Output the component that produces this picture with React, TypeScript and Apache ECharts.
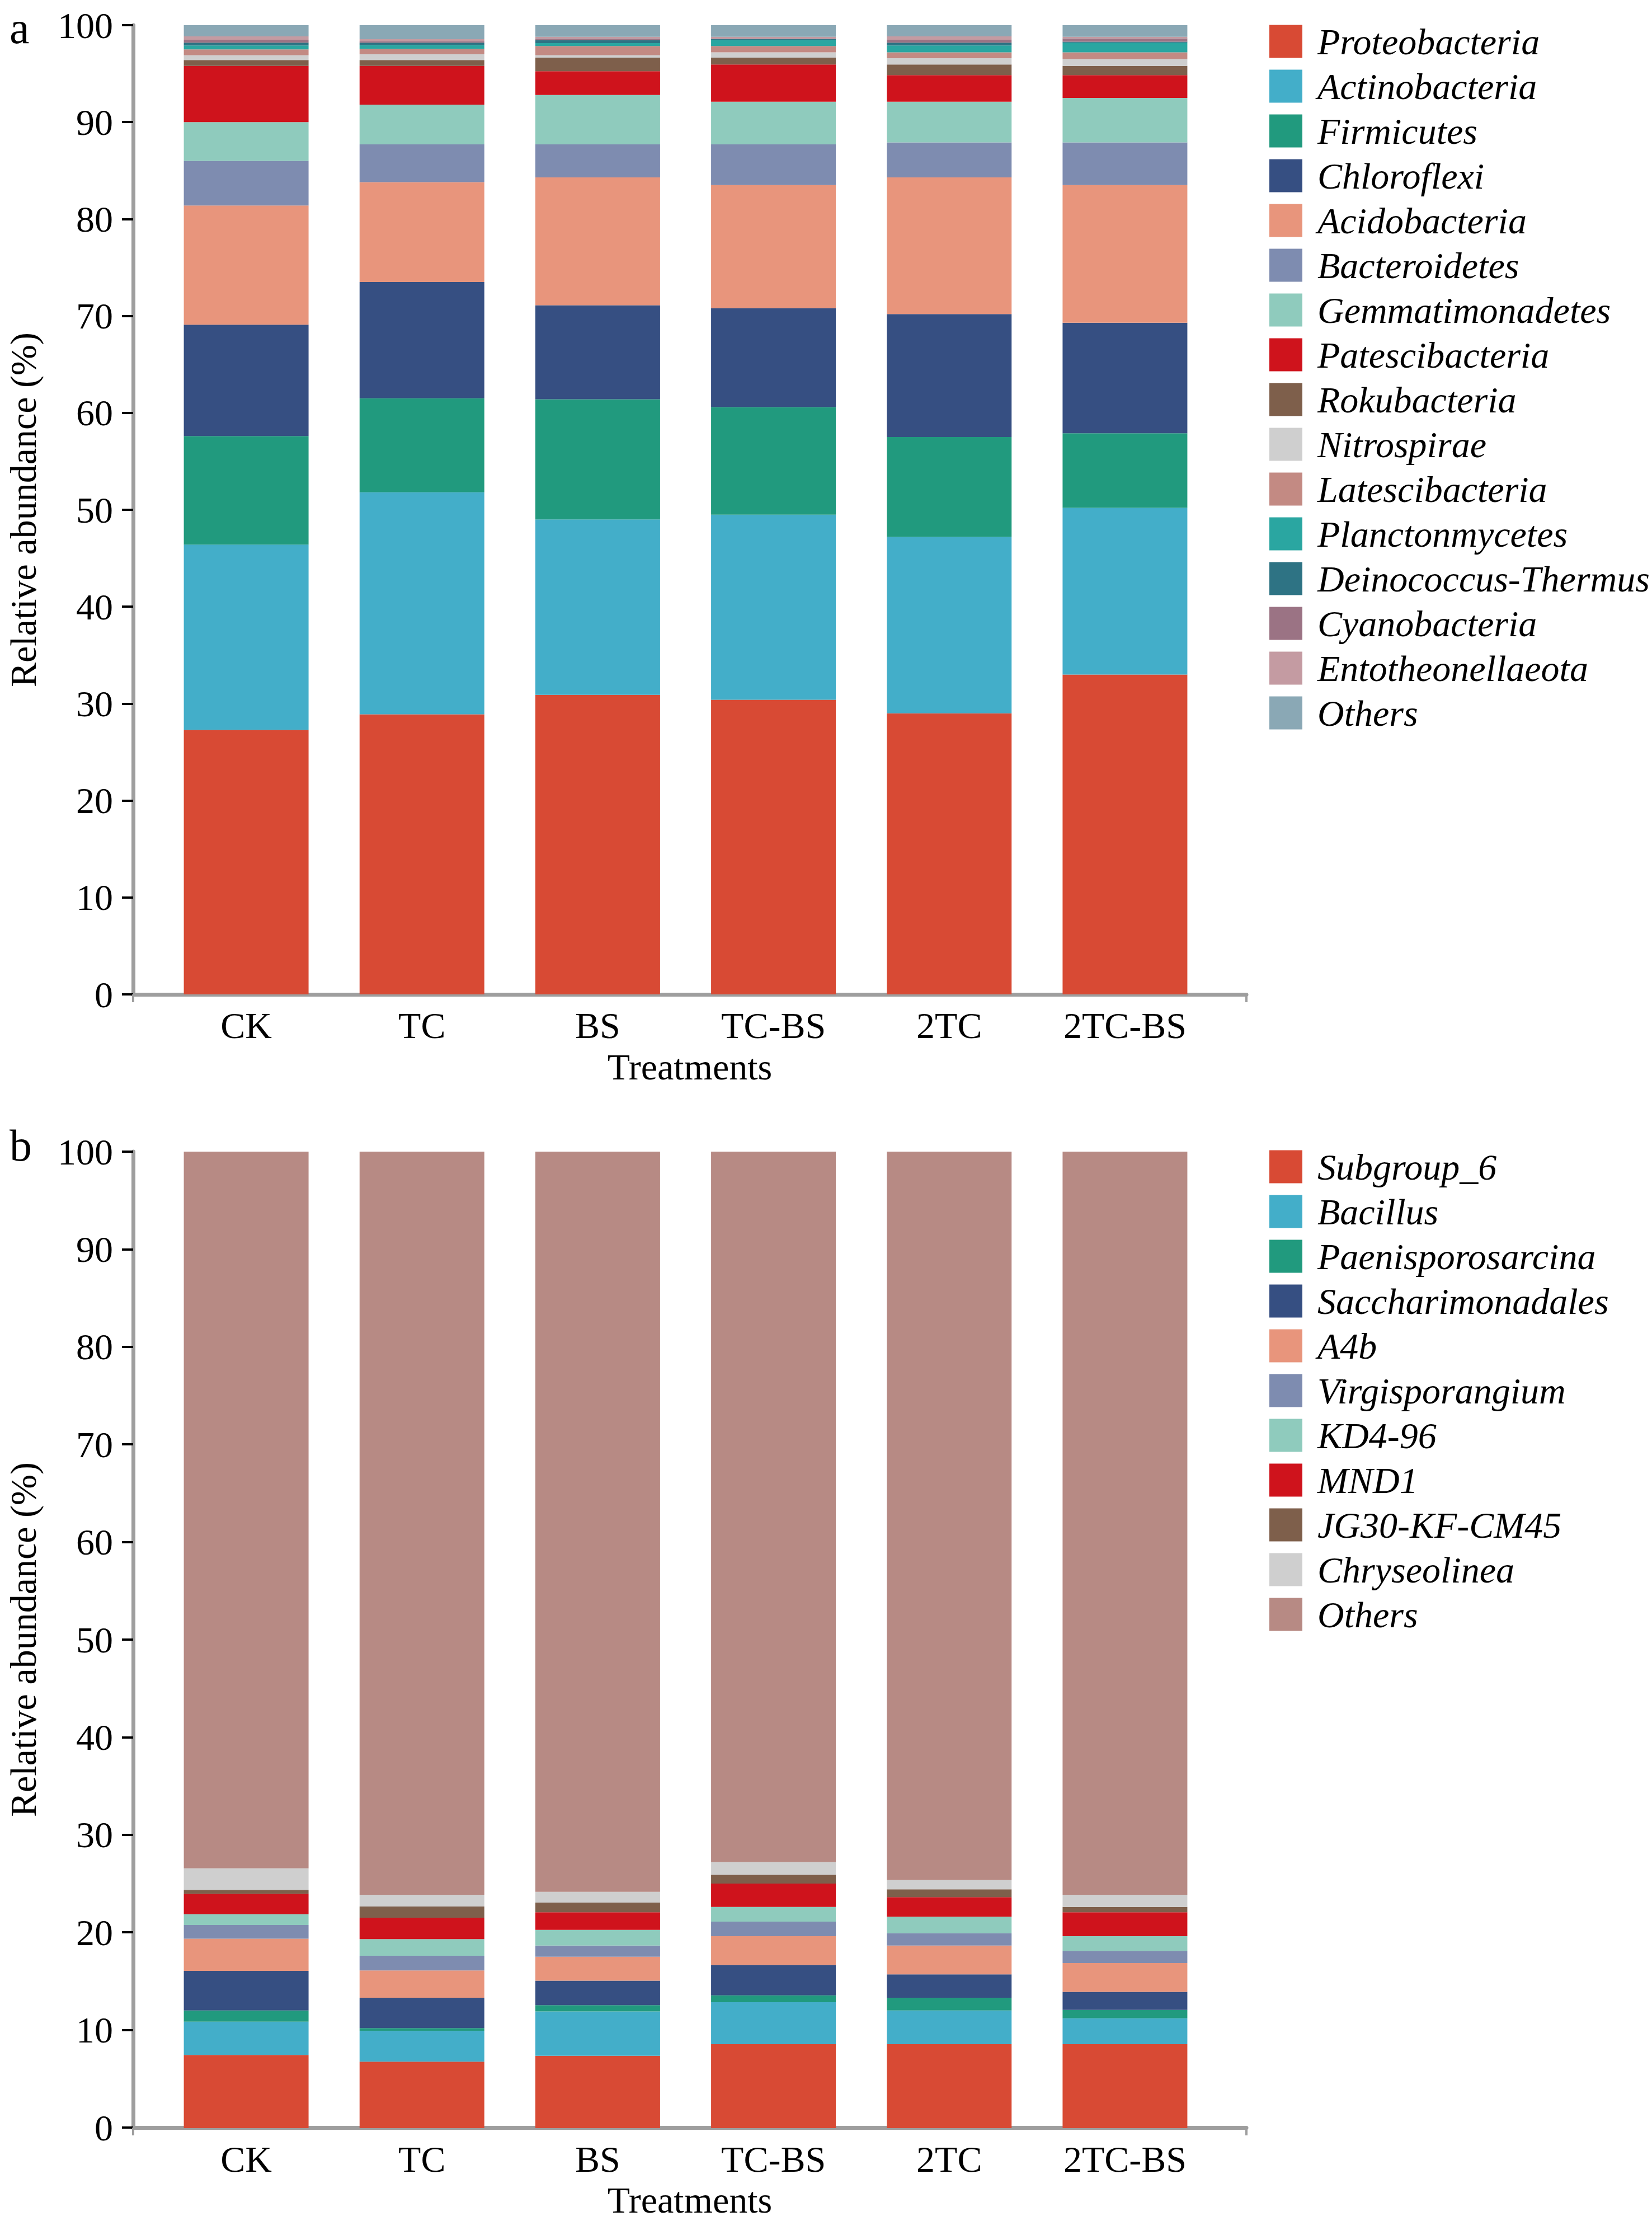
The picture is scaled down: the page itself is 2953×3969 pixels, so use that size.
import React, { useEffect, useRef } from "react";
import * as echarts from "echarts";

const treatments = ["CK", "TC", "BS", "TC-BS", "2TC", "2TC-BS"];
const yTicks = [0, 10, 20, 30, 40, 50, 60, 70, 80, 90, 100];

// Panel a: phylum level
const phylaNames = [
  "Proteobacteria", "Actinobacteria", "Firmicutes", "Chloroflexi", "Acidobacteria",
  "Bacteroidetes", "Gemmatimonadetes", "Patescibacteria", "Rokubacteria", "Nitrospirae",
  "Latescibacteria", "Planctonmycetes", "Deinococcus-Thermus", "Cyanobacteria",
  "Entotheonellaeota", "Others",
];
const proteobacteria = [27.3, 28.9, 30.9, 30.4, 29.0, 33.0];
const actinobacteria = [19.1, 22.9, 18.1, 19.1, 18.2, 17.2];
const firmicutes = [11.2, 9.7, 12.4, 11.1, 10.3, 7.7];
const chloroflexi = [11.5, 12.0, 9.7, 10.2, 12.7, 11.4];
const acidobacteria = [12.3, 10.3, 13.2, 12.7, 14.1, 14.2];
const bacteroidetes = [4.6, 3.9, 3.4, 4.2, 3.6, 4.4];
const gemmatimonadetes = [4.0, 4.1, 5.1, 4.4, 4.2, 4.6];
const patescibacteria = [5.8, 4.0, 2.45, 3.85, 2.75, 2.35];
const rokubacteria = [0.6, 0.6, 1.4, 0.7, 1.1, 0.95];
const nitrospirae = [0.5, 0.6, 0.25, 0.55, 0.65, 0.7];
const latescibacteria = [0.6, 0.55, 0.95, 0.65, 0.6, 0.7];
const planctonmycetes = [0.4, 0.4, 0.3, 0.6, 0.7, 1.0];
const deinococcus = [0.3, 0.25, 0.3, 0.1, 0.3, 0.1];
const cyanobacteria = [0.3, 0.15, 0.2, 0.1, 0.3, 0.35];
const entotheonellaeota = [0.35, 0.2, 0.15, 0.15, 0.35, 0.15];
const othersA = [1.15, 1.45, 1.2, 1.2, 1.15, 1.2];
const phylaValues = [
  proteobacteria, actinobacteria, firmicutes, chloroflexi, acidobacteria, bacteroidetes,
  gemmatimonadetes, patescibacteria, rokubacteria, nitrospirae, latescibacteria,
  planctonmycetes, deinococcus, cyanobacteria, entotheonellaeota, othersA,
];
const phylaColors = [
  "#d84a34", "#43aec9", "#219a7e", "#364f82", "#e8957c", "#7e8cb0", "#8fcbbd", "#cf131c",
  "#7e5f4b", "#cfcfcf", "#c38a83", "#2aa6a1", "#2e7384", "#9b7384", "#c49ba2", "#8aa8b5",
];

// Panel b: genus level
const genusNames = [
  "Subgroup_6", "Bacillus", "Paenisporosarcina", "Saccharimonadales", "A4b",
  "Virgisporangium", "KD4-96", "MND1", "JG30-KF-CM45", "Chryseolinea", "Others",
];
const subgroup6 = [7.5, 6.8, 7.4, 8.6, 8.6, 8.6];
const bacillus = [3.4, 3.15, 4.55, 4.3, 3.45, 2.65];
const paenisporosarcina = [1.15, 0.3, 0.65, 0.7, 1.3, 0.85];
const saccharimonadales = [4.05, 3.1, 2.5, 3.1, 2.4, 1.85];
const a4b = [3.3, 2.8, 2.45, 2.95, 2.95, 2.95];
const virgisporangium = [1.4, 1.5, 1.15, 1.5, 1.25, 1.25];
const kd496 = [1.1, 1.7, 1.6, 1.5, 1.7, 1.5];
const mnd1 = [2.1, 2.2, 1.8, 2.4, 2.0, 2.45];
const jg30 = [0.4, 1.15, 1.0, 0.9, 0.8, 0.55];
const chryseolinea = [2.2, 1.2, 1.1, 1.3, 0.95, 1.25];
const othersB = [73.4, 76.1, 75.8, 72.75, 74.6, 76.1];
const genusValues = [
  subgroup6, bacillus, paenisporosarcina, saccharimonadales, a4b, virgisporangium,
  kd496, mnd1, jg30, chryseolinea, othersB,
];
const genusColors = [
  "#d84a34", "#43aec9", "#219a7e", "#364f82", "#e8957c", "#7e8cb0", "#8fcbbd", "#cf131c",
  "#7e5f4b", "#cfcfcf", "#b78a84",
];

const FONT = "'Liberation Serif', 'Times New Roman', serif";
const AXIS_GRAY = "#9e9e9e";

function buildOption(
  names: string[],
  values: number[][],
  colors: string[],
  gridTop: number,
  gridHeight: number,
  legendTop: number,
  letter: string,
  letterY: number
) {
  const yMin = yTicks[0];
  const yMax = yTicks[yTicks.length - 1];
  return {
    animation: false,
    backgroundColor: "#ffffff",
    grid: [
      // bars
      { left: 283, top: gridTop, width: 1885, height: gridHeight, containLabel: false },
      // frame (axis lines)
      { left: 232, top: gridTop, width: 1996, height: gridHeight, containLabel: false },
    ],
    legend: {
      orient: "vertical",
      left: 2269,
      top: legendTop,
      padding: 0,
      itemWidth: 59,
      itemHeight: 59,
      itemGap: 14,
      icon: "rect",
      selectedMode: false,
      data: names,
      textStyle: {
        fontFamily: FONT,
        fontStyle: "italic",
        fontSize: 66,
        color: "#000",
        padding: [0, 0, 0, 22],
      },
    },
    graphic: [
      {
        type: "text",
        left: 17,
        top: letterY,
        style: { text: letter, font: `80px ${FONT}`, fill: "#000" },
      },
    ],
    xAxis: [
      {
        type: "category",
        gridIndex: 0,
        data: treatments,
        boundaryGap: true,
        axisLine: { show: false },
        axisTick: { show: false },
        axisLabel: { fontFamily: FONT, fontSize: 66, color: "#000", margin: 22 },
        splitLine: { show: false },
      },
      {
        type: "value",
        gridIndex: 1,
        min: 0,
        max: 1,
        name: "Treatments",
        nameLocation: "middle",
        nameGap: 96,
        nameTextStyle: { fontFamily: FONT, fontSize: 66, color: "#000" },
        axisLine: { show: true, onZero: false, lineStyle: { color: AXIS_GRAY, width: 7 } },
        axisTick: {
          show: true,
          customValues: [0, 1],
          length: 14,
          lineStyle: { color: AXIS_GRAY, width: 4 },
        },
        axisLabel: { show: false },
        splitLine: { show: false },
      },
    ],
    yAxis: [
      {
        type: "value",
        gridIndex: 0,
        min: yMin,
        max: yMax,
        show: false,
      },
      {
        type: "value",
        gridIndex: 1,
        min: yMin,
        max: yMax,
        interval: 10,
        name: "Relative abundance (%)",
        nameLocation: "middle",
        nameGap: 164,
        nameTextStyle: { fontFamily: FONT, fontSize: 66, color: "#000" },
        axisLine: { show: true, onZero: false, lineStyle: { color: AXIS_GRAY, width: 7 } },
        axisTick: { show: true, length: 20, lineStyle: { color: "#000", width: 4 } },
        axisLabel: { fontFamily: FONT, fontSize: 66, color: "#000", margin: 36 },
        splitLine: { show: false },
      },
    ],
    series: names.map((n, si) => ({
      name: n,
      type: "bar",
      xAxisIndex: 0,
      yAxisIndex: 0,
      stack: "total",
      barWidth: 223,
      itemStyle: { color: colors[si] },
      data: values[si],
    })),
  };
}

function Chart({ option, height }: { option: any; height: number }) {
  const ref = useRef<HTMLDivElement>(null);
  useEffect(() => {
    if (!ref.current) return;
    const chart = echarts.init(ref.current, undefined, { renderer: "svg" });
    chart.setOption(option);
    return () => chart.dispose();
  }, [option]);
  return <div ref={ref} style={{ width: 2953, height }} />;
}

const optionA = buildOption(phylaNames, phylaValues, phylaColors, 45, 1732, 41, "a", 10);
const optionB = buildOption(genusNames, genusValues, genusColors, 73, 1745, 67, "b", 22);

export default function App() {
  return (
    <div style={{ position: "absolute", left: 0, top: 0, width: 2953, height: 3969, background: "#fff" }}>
      <Chart option={optionA} height={1985} />
      <Chart option={optionB} height={1984} />
    </div>
  );
}
